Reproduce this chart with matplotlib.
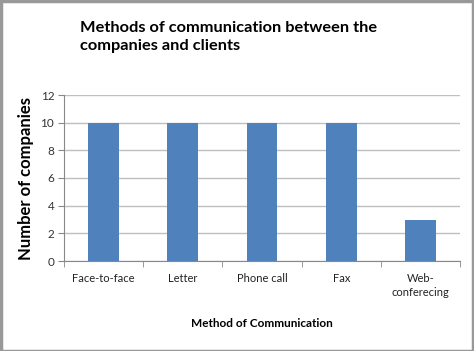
import matplotlib
matplotlib.use("Agg")
import matplotlib.pyplot as plt
from matplotlib.patches import Rectangle
import numpy as np

categories = ["Face-to-face", "Letter", "Phone call", "Fax", "Web-\nconferecing"]
values = [10, 10, 10, 10, 3]
yticks = [0, 2, 4, 6, 8, 10, 12]

plt.rcParams['font.family'] = ['Lato', 'DejaVu Sans']

W, H = 474, 351
fig = plt.figure(figsize=(W/100, H/100), dpi=100)
ax = fig.add_axes([64/W, 1-261/H, (460-64)/W, (261-95)/H])

x = np.arange(len(categories))
ax.bar(x, values, width=0.39, color="#4F81BD", zorder=3)
ax.set_xlim(-0.5, len(categories)-0.5)
ax.set_ylim(0, 12)
ax.set_yticks(yticks)
ax.set_yticklabels([str(v) for v in yticks], fontsize=8.5, color="#333333")
ax.yaxis.grid(True, color="#BFBFBF", linewidth=1, zorder=0)
ax.set_xticks(x)
ax.set_xticklabels(categories, fontsize=8, color="#222222", linespacing=1.3)
ax.set_xticks(np.arange(-0.5, len(categories)), minor=True)
ax.tick_params(axis='x', which='major', length=0, pad=9)
ax.tick_params(axis='x', which='minor', length=4, color="#888888")
ax.tick_params(axis='y', length=4, color="#888888", pad=3)
for s in ["top", "right"]:
    ax.spines[s].set_visible(False)
ax.spines["left"].set_color("#888888")
ax.spines["bottom"].set_color("#888888")

ax.set_ylabel("Number of companies", fontsize=12, fontweight="bold", labelpad=5)
ax.set_xlabel("Method of Communication", fontsize=8.5, fontweight="bold", labelpad=14)

fig.text(80/W, 1-37/H, "Methods of communication between the\ncompanies and clients",
         fontsize=11.8, fontweight="bold", ha="left", va="center", linespacing=1.4)

fig.patches.append(Rectangle((0.5/W, 0), 1-2/W, 1-1/H, transform=fig.transFigure,
                             fill=False, edgecolor="#999999", linewidth=2.5))

fig.savefig("out.png", dpi=100)
